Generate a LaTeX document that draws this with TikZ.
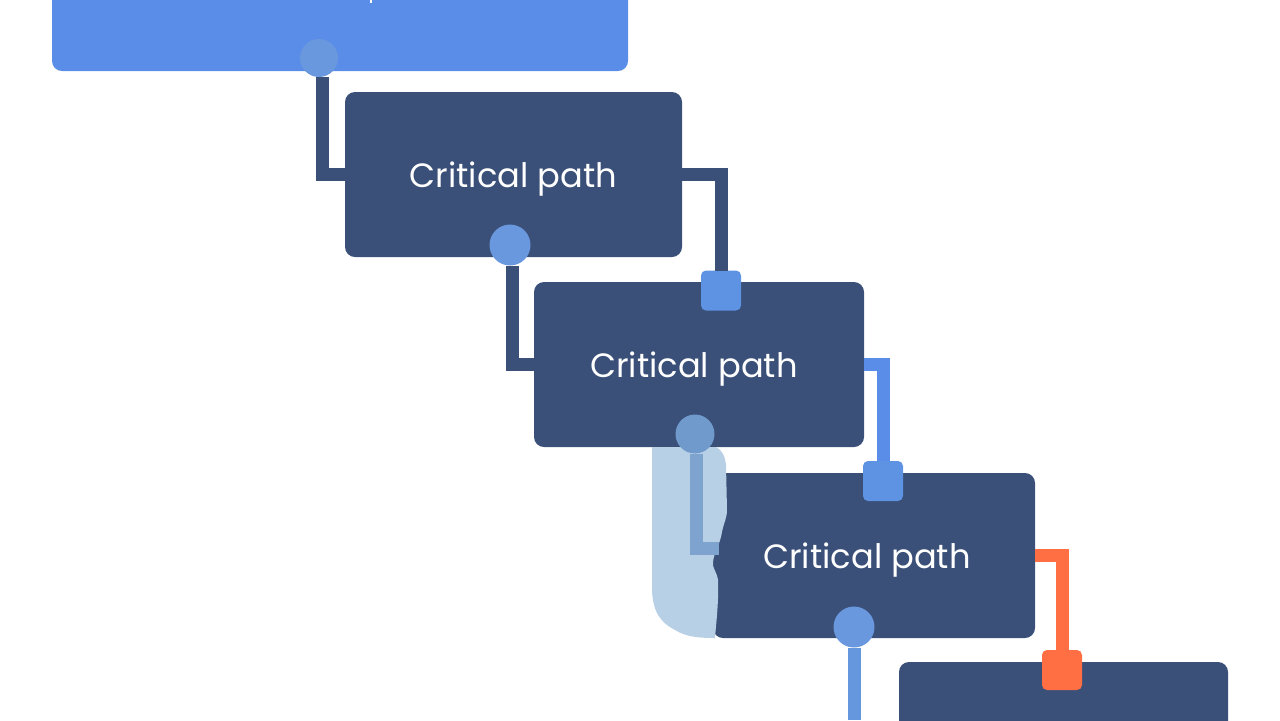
\documentclass[tikz,border=0pt]{standalone}
\usepackage{fontspec}
\setmainfont{Poppins}
\begin{document}
\begin{tikzpicture}[x=0.50pt, y=-0.50pt, inner sep=0pt, outer sep=0pt,
    stepbox/.style={rectangle, rounded corners=5pt, fill=D, text=white, minimum height=82.5pt, text height=12.5pt, text depth=0pt, font=\fontsize{16.85}{20}\selectfont},
    pin/.style={circle, minimum size=20.5pt},
    plug/.style={rectangle, rounded corners=2.5pt, minimum size=20pt},
    link/.style={line width=6.5pt}]
\definecolor{D}{HTML}{3A5078}
\definecolor{T}{HTML}{5A8DE8}
\definecolor{P}{HTML}{6A98DE}
\definecolor{Q}{HTML}{7099CC}
\definecolor{S}{HTML}{5E92E3}
\definecolor{L}{HTML}{6497DE}
\definecolor{G}{HTML}{7EA3CF}
\definecolor{H}{HTML}{B7D0E6}
\definecolor{O}{HTML}{FF6F43}
\clip (0,0) rectangle (1280,720);
\path[fill=white] (0,0) rectangle (1280,720);
\node[stepbox, fill=T, minimum width=288pt] (top) at (340,-11.5) {};
\path[fill=white] (370,0) rectangle (372,3);
\node[stepbox, minimum width=168.5pt] (path1) at (513.5,174.5) {Critical path};
\node[stepbox, minimum width=165pt] (path2) at (699,364.5) {Critical path\kern5pt};
\node[stepbox, minimum width=161pt] (path3) at (874,555.5) {Critical path\kern7pt};
\node[stepbox, minimum width=164.5pt] (path4) at (1063.5,744.5) {};
\path[fill=H] (652,447) -- (652,590) .. controls (653,612) and (660,622) .. (675,630) .. controls (685,636) and (695,638) .. (715,638) .. controls (716,625) and (719,600) .. (718,580) .. controls (717,572) and (712,568) .. (713,562) .. controls (714,552) and (720,545) .. (722,532) .. controls (724,522) and (727,518) .. (727,510) -- (726,465) .. controls (725,456) and (722,450) .. (716,447) -- cycle;
\node[pin, fill=P, minimum size=19pt] (pin0) at (319,58) {};
\node[pin, fill=P] (pin1) at (510,245) {};
\node[pin, fill=Q, minimum size=19.5pt] (pin2) at (695,434) {};
\node[pin, fill=P] (pin3) at (854,627) {};
\node[plug, fill=S] (plug2) at (721,290.5) {};
\node[plug, fill=S] (plug3) at (883,481) {};
\node[plug, fill=O] (plug4) at (1062,670) {};
\coordinate (in3) at (719,548);
\coordinate (exit3) at (854,720);
\draw[link, draw=D] ([xshift=1.5pt]pin0.south) |- (path1.west);
\draw[link, draw=D] (path1.east) -| (plug2);
\draw[link, draw=D] ([xshift=1pt]pin1.south) |- (path2.west);
\draw[link, draw=T] (path2.east) -| (plug3);
\draw[link, draw=G] ([xshift=0.5pt]pin2.south) |- (in3);
\draw[link, draw=O] (path3.east) -| (plug4);
\draw[link, draw=L] (pin3.south) -- (exit3);
\end{tikzpicture}
\end{document}
